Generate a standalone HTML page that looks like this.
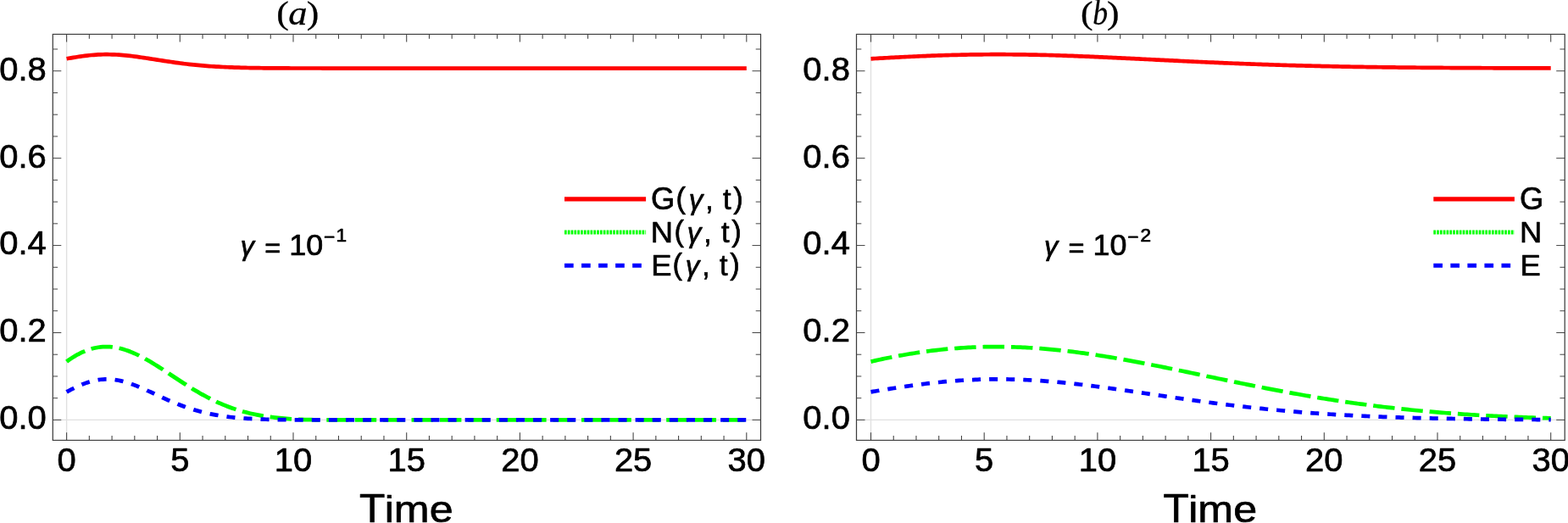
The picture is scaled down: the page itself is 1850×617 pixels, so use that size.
<!DOCTYPE html>
<html>
<head>
<meta charset="utf-8">
<title>Time evolution plots</title>
<style>
html,body{margin:0;padding:0;background:#ffffff;overflow:hidden}
svg{display:block}
text{fill:#000;stroke:#000;stroke-width:0.7px;stroke-linejoin:round;font-family:"Liberation Sans",sans-serif}
.serif,.sit{stroke-width:0.3px}
.serif{font-family:"Liberation Serif",serif}
.it{font-style:italic}
.sit{font-family:"Liberation Serif",serif;font-style:italic}
</style>
</head>
<body>
<svg width="1850" height="617" viewBox="0 0 1850 617">
<rect x="0" y="0" width="1850" height="617" fill="#ffffff"/>
<g transform="scale(1.0776,1)">
<g id="panel-a">
<line x1="72.94" y1="40.40" x2="72.94" y2="519.40" stroke="#e0e0e0" stroke-width="1.3"/>
<line x1="57.81" y1="495.40" x2="832.87" y2="495.40" stroke="#e0e0e0" stroke-width="1.3"/>
<line x1="72.94" y1="519.40" x2="72.94" y2="510.20" stroke="#444444" stroke-width="1.0"/>
<line x1="72.94" y1="40.40" x2="72.94" y2="49.60" stroke="#444444" stroke-width="1.0"/>
<line x1="97.75" y1="519.40" x2="97.75" y2="514.00" stroke="#444444" stroke-width="1.0"/>
<line x1="97.75" y1="40.40" x2="97.75" y2="45.80" stroke="#444444" stroke-width="1.0"/>
<line x1="122.57" y1="519.40" x2="122.57" y2="514.00" stroke="#444444" stroke-width="1.0"/>
<line x1="122.57" y1="40.40" x2="122.57" y2="45.80" stroke="#444444" stroke-width="1.0"/>
<line x1="147.38" y1="519.40" x2="147.38" y2="514.00" stroke="#444444" stroke-width="1.0"/>
<line x1="147.38" y1="40.40" x2="147.38" y2="45.80" stroke="#444444" stroke-width="1.0"/>
<line x1="172.20" y1="519.40" x2="172.20" y2="514.00" stroke="#444444" stroke-width="1.0"/>
<line x1="172.20" y1="40.40" x2="172.20" y2="45.80" stroke="#444444" stroke-width="1.0"/>
<line x1="197.01" y1="519.40" x2="197.01" y2="510.20" stroke="#444444" stroke-width="1.0"/>
<line x1="197.01" y1="40.40" x2="197.01" y2="49.60" stroke="#444444" stroke-width="1.0"/>
<line x1="221.83" y1="519.40" x2="221.83" y2="514.00" stroke="#444444" stroke-width="1.0"/>
<line x1="221.83" y1="40.40" x2="221.83" y2="45.80" stroke="#444444" stroke-width="1.0"/>
<line x1="246.64" y1="519.40" x2="246.64" y2="514.00" stroke="#444444" stroke-width="1.0"/>
<line x1="246.64" y1="40.40" x2="246.64" y2="45.80" stroke="#444444" stroke-width="1.0"/>
<line x1="271.46" y1="519.40" x2="271.46" y2="514.00" stroke="#444444" stroke-width="1.0"/>
<line x1="271.46" y1="40.40" x2="271.46" y2="45.80" stroke="#444444" stroke-width="1.0"/>
<line x1="296.27" y1="519.40" x2="296.27" y2="514.00" stroke="#444444" stroke-width="1.0"/>
<line x1="296.27" y1="40.40" x2="296.27" y2="45.80" stroke="#444444" stroke-width="1.0"/>
<line x1="321.08" y1="519.40" x2="321.08" y2="510.20" stroke="#444444" stroke-width="1.0"/>
<line x1="321.08" y1="40.40" x2="321.08" y2="49.60" stroke="#444444" stroke-width="1.0"/>
<line x1="345.90" y1="519.40" x2="345.90" y2="514.00" stroke="#444444" stroke-width="1.0"/>
<line x1="345.90" y1="40.40" x2="345.90" y2="45.80" stroke="#444444" stroke-width="1.0"/>
<line x1="370.71" y1="519.40" x2="370.71" y2="514.00" stroke="#444444" stroke-width="1.0"/>
<line x1="370.71" y1="40.40" x2="370.71" y2="45.80" stroke="#444444" stroke-width="1.0"/>
<line x1="395.53" y1="519.40" x2="395.53" y2="514.00" stroke="#444444" stroke-width="1.0"/>
<line x1="395.53" y1="40.40" x2="395.53" y2="45.80" stroke="#444444" stroke-width="1.0"/>
<line x1="420.34" y1="519.40" x2="420.34" y2="514.00" stroke="#444444" stroke-width="1.0"/>
<line x1="420.34" y1="40.40" x2="420.34" y2="45.80" stroke="#444444" stroke-width="1.0"/>
<line x1="445.16" y1="519.40" x2="445.16" y2="510.20" stroke="#444444" stroke-width="1.0"/>
<line x1="445.16" y1="40.40" x2="445.16" y2="49.60" stroke="#444444" stroke-width="1.0"/>
<line x1="469.97" y1="519.40" x2="469.97" y2="514.00" stroke="#444444" stroke-width="1.0"/>
<line x1="469.97" y1="40.40" x2="469.97" y2="45.80" stroke="#444444" stroke-width="1.0"/>
<line x1="494.78" y1="519.40" x2="494.78" y2="514.00" stroke="#444444" stroke-width="1.0"/>
<line x1="494.78" y1="40.40" x2="494.78" y2="45.80" stroke="#444444" stroke-width="1.0"/>
<line x1="519.60" y1="519.40" x2="519.60" y2="514.00" stroke="#444444" stroke-width="1.0"/>
<line x1="519.60" y1="40.40" x2="519.60" y2="45.80" stroke="#444444" stroke-width="1.0"/>
<line x1="544.41" y1="519.40" x2="544.41" y2="514.00" stroke="#444444" stroke-width="1.0"/>
<line x1="544.41" y1="40.40" x2="544.41" y2="45.80" stroke="#444444" stroke-width="1.0"/>
<line x1="569.23" y1="519.40" x2="569.23" y2="510.20" stroke="#444444" stroke-width="1.0"/>
<line x1="569.23" y1="40.40" x2="569.23" y2="49.60" stroke="#444444" stroke-width="1.0"/>
<line x1="594.04" y1="519.40" x2="594.04" y2="514.00" stroke="#444444" stroke-width="1.0"/>
<line x1="594.04" y1="40.40" x2="594.04" y2="45.80" stroke="#444444" stroke-width="1.0"/>
<line x1="618.86" y1="519.40" x2="618.86" y2="514.00" stroke="#444444" stroke-width="1.0"/>
<line x1="618.86" y1="40.40" x2="618.86" y2="45.80" stroke="#444444" stroke-width="1.0"/>
<line x1="643.67" y1="519.40" x2="643.67" y2="514.00" stroke="#444444" stroke-width="1.0"/>
<line x1="643.67" y1="40.40" x2="643.67" y2="45.80" stroke="#444444" stroke-width="1.0"/>
<line x1="668.49" y1="519.40" x2="668.49" y2="514.00" stroke="#444444" stroke-width="1.0"/>
<line x1="668.49" y1="40.40" x2="668.49" y2="45.80" stroke="#444444" stroke-width="1.0"/>
<line x1="693.30" y1="519.40" x2="693.30" y2="510.20" stroke="#444444" stroke-width="1.0"/>
<line x1="693.30" y1="40.40" x2="693.30" y2="49.60" stroke="#444444" stroke-width="1.0"/>
<line x1="718.11" y1="519.40" x2="718.11" y2="514.00" stroke="#444444" stroke-width="1.0"/>
<line x1="718.11" y1="40.40" x2="718.11" y2="45.80" stroke="#444444" stroke-width="1.0"/>
<line x1="742.93" y1="519.40" x2="742.93" y2="514.00" stroke="#444444" stroke-width="1.0"/>
<line x1="742.93" y1="40.40" x2="742.93" y2="45.80" stroke="#444444" stroke-width="1.0"/>
<line x1="767.74" y1="519.40" x2="767.74" y2="514.00" stroke="#444444" stroke-width="1.0"/>
<line x1="767.74" y1="40.40" x2="767.74" y2="45.80" stroke="#444444" stroke-width="1.0"/>
<line x1="792.56" y1="519.40" x2="792.56" y2="514.00" stroke="#444444" stroke-width="1.0"/>
<line x1="792.56" y1="40.40" x2="792.56" y2="45.80" stroke="#444444" stroke-width="1.0"/>
<line x1="817.37" y1="519.40" x2="817.37" y2="510.20" stroke="#444444" stroke-width="1.0"/>
<line x1="817.37" y1="40.40" x2="817.37" y2="49.60" stroke="#444444" stroke-width="1.0"/>
<line x1="57.81" y1="495.40" x2="67.09" y2="495.40" stroke="#444444" stroke-width="1.0"/>
<line x1="832.87" y1="495.40" x2="823.59" y2="495.40" stroke="#444444" stroke-width="1.0"/>
<line x1="57.81" y1="469.67" x2="63.20" y2="469.67" stroke="#444444" stroke-width="1.0"/>
<line x1="832.87" y1="469.67" x2="827.49" y2="469.67" stroke="#444444" stroke-width="1.0"/>
<line x1="57.81" y1="443.94" x2="63.20" y2="443.94" stroke="#444444" stroke-width="1.0"/>
<line x1="832.87" y1="443.94" x2="827.49" y2="443.94" stroke="#444444" stroke-width="1.0"/>
<line x1="57.81" y1="418.21" x2="63.20" y2="418.21" stroke="#444444" stroke-width="1.0"/>
<line x1="832.87" y1="418.21" x2="827.49" y2="418.21" stroke="#444444" stroke-width="1.0"/>
<line x1="57.81" y1="392.48" x2="67.09" y2="392.48" stroke="#444444" stroke-width="1.0"/>
<line x1="832.87" y1="392.48" x2="823.59" y2="392.48" stroke="#444444" stroke-width="1.0"/>
<line x1="57.81" y1="366.75" x2="63.20" y2="366.75" stroke="#444444" stroke-width="1.0"/>
<line x1="832.87" y1="366.75" x2="827.49" y2="366.75" stroke="#444444" stroke-width="1.0"/>
<line x1="57.81" y1="341.02" x2="63.20" y2="341.02" stroke="#444444" stroke-width="1.0"/>
<line x1="832.87" y1="341.02" x2="827.49" y2="341.02" stroke="#444444" stroke-width="1.0"/>
<line x1="57.81" y1="315.29" x2="63.20" y2="315.29" stroke="#444444" stroke-width="1.0"/>
<line x1="832.87" y1="315.29" x2="827.49" y2="315.29" stroke="#444444" stroke-width="1.0"/>
<line x1="57.81" y1="289.56" x2="67.09" y2="289.56" stroke="#444444" stroke-width="1.0"/>
<line x1="832.87" y1="289.56" x2="823.59" y2="289.56" stroke="#444444" stroke-width="1.0"/>
<line x1="57.81" y1="263.83" x2="63.20" y2="263.83" stroke="#444444" stroke-width="1.0"/>
<line x1="832.87" y1="263.83" x2="827.49" y2="263.83" stroke="#444444" stroke-width="1.0"/>
<line x1="57.81" y1="238.10" x2="63.20" y2="238.10" stroke="#444444" stroke-width="1.0"/>
<line x1="832.87" y1="238.10" x2="827.49" y2="238.10" stroke="#444444" stroke-width="1.0"/>
<line x1="57.81" y1="212.37" x2="63.20" y2="212.37" stroke="#444444" stroke-width="1.0"/>
<line x1="832.87" y1="212.37" x2="827.49" y2="212.37" stroke="#444444" stroke-width="1.0"/>
<line x1="57.81" y1="186.64" x2="67.09" y2="186.64" stroke="#444444" stroke-width="1.0"/>
<line x1="832.87" y1="186.64" x2="823.59" y2="186.64" stroke="#444444" stroke-width="1.0"/>
<line x1="57.81" y1="160.91" x2="63.20" y2="160.91" stroke="#444444" stroke-width="1.0"/>
<line x1="832.87" y1="160.91" x2="827.49" y2="160.91" stroke="#444444" stroke-width="1.0"/>
<line x1="57.81" y1="135.18" x2="63.20" y2="135.18" stroke="#444444" stroke-width="1.0"/>
<line x1="832.87" y1="135.18" x2="827.49" y2="135.18" stroke="#444444" stroke-width="1.0"/>
<line x1="57.81" y1="109.45" x2="63.20" y2="109.45" stroke="#444444" stroke-width="1.0"/>
<line x1="832.87" y1="109.45" x2="827.49" y2="109.45" stroke="#444444" stroke-width="1.0"/>
<line x1="57.81" y1="83.72" x2="67.09" y2="83.72" stroke="#444444" stroke-width="1.0"/>
<line x1="832.87" y1="83.72" x2="823.59" y2="83.72" stroke="#444444" stroke-width="1.0"/>
<line x1="57.81" y1="57.99" x2="63.20" y2="57.99" stroke="#444444" stroke-width="1.0"/>
<line x1="832.87" y1="57.99" x2="827.49" y2="57.99" stroke="#444444" stroke-width="1.0"/>
<rect x="57.81" y="40.40" width="775.06" height="479.00" fill="none" stroke="#3c3c3c" stroke-width="1.15"/>
<path d="M72.94,69.29 L75.42,68.81 L77.90,68.34 L80.38,67.88 L82.87,67.44 L85.35,67.02 L87.83,66.62 L90.31,66.25 L92.79,65.90 L95.27,65.57 L97.75,65.28 L100.24,65.02 L102.72,64.80 L105.20,64.61 L107.68,64.45 L110.16,64.33 L112.64,64.25 L115.12,64.21 L117.61,64.20 L120.09,64.23 L122.57,64.29 L125.05,64.39 L127.53,64.52 L130.01,64.68 L132.49,64.88 L134.98,65.10 L137.46,65.35 L139.94,65.63 L142.42,65.92 L144.90,66.25 L147.38,66.59 L149.86,66.94 L152.35,67.32 L154.83,67.70 L157.31,68.10 L159.79,68.50 L162.27,68.92 L164.75,69.33 L167.23,69.75 L169.72,70.18 L172.20,70.60 L174.68,71.02 L177.16,71.44 L179.64,71.85 L182.12,72.26 L184.60,72.66 L187.09,73.05 L189.57,73.44 L192.05,73.81 L194.53,74.18 L197.01,74.53 L199.49,74.87 L201.97,75.21 L204.46,75.52 L206.94,75.83 L209.42,76.13 L211.90,76.41 L214.38,76.68 L216.86,76.94 L219.34,77.18 L221.83,77.41 L224.31,77.63 L226.79,77.84 L229.27,78.04 L231.75,78.23 L234.23,78.40 L236.71,78.57 L239.20,78.72 L241.68,78.87 L244.16,79.00 L246.64,79.13 L249.12,79.25 L251.60,79.36 L254.09,79.46 L256.57,79.56 L259.05,79.64 L261.53,79.72 L264.01,79.80 L266.49,79.87 L268.97,79.93 L271.46,79.99 L273.94,80.04 L276.42,80.09 L278.90,80.14 L281.38,80.18 L283.86,80.21 L286.34,80.25 L288.83,80.28 L291.31,80.30 L293.79,80.33 L296.27,80.35 L298.75,80.37 L301.23,80.39 L303.71,80.41 L306.20,80.42 L308.68,80.43 L311.16,80.45 L313.64,80.46 L316.12,80.47 L318.60,80.48 L321.08,80.49 L323.57,80.49 L326.05,80.50 L328.53,80.50 L331.01,80.51 L333.49,80.51 L335.97,80.51 L338.45,80.52 L340.94,80.52 L343.42,80.52 L345.90,80.52 L348.38,80.52 L350.86,80.52 L353.34,80.53 L355.82,80.53 L358.31,80.53 L360.79,80.53 L363.27,80.53 L365.75,80.53 L368.23,80.53 L370.71,80.53 L373.19,80.53 L375.68,80.53 L378.16,80.53 L380.64,80.53 L383.12,80.53 L385.60,80.53 L388.08,80.53 L390.56,80.53 L393.05,80.53 L395.53,80.53 L398.01,80.53 L400.49,80.53 L402.97,80.53 L405.45,80.53 L407.93,80.53 L410.42,80.53 L412.90,80.53 L415.38,80.53 L417.86,80.53 L420.34,80.53 L422.82,80.53 L425.30,80.53 L427.79,80.53 L430.27,80.53 L432.75,80.53 L435.23,80.53 L437.71,80.53 L440.19,80.53 L442.67,80.53 L445.16,80.53 L447.64,80.53 L450.12,80.53 L452.60,80.53 L455.08,80.53 L457.56,80.53 L460.04,80.53 L462.53,80.53 L465.01,80.53 L467.49,80.53 L469.97,80.53 L472.45,80.53 L474.93,80.53 L477.41,80.53 L479.90,80.53 L482.38,80.53 L484.86,80.53 L487.34,80.53 L489.82,80.53 L492.30,80.53 L494.78,80.53 L497.27,80.53 L499.75,80.53 L502.23,80.53 L504.71,80.53 L507.19,80.53 L509.67,80.53 L512.15,80.53 L514.64,80.53 L517.12,80.53 L519.60,80.53 L522.08,80.53 L524.56,80.53 L527.04,80.53 L529.52,80.53 L532.01,80.53 L534.49,80.53 L536.97,80.53 L539.45,80.53 L541.93,80.53 L544.41,80.53 L546.89,80.53 L549.38,80.53 L551.86,80.53 L554.34,80.53 L556.82,80.53 L559.30,80.53 L561.78,80.53 L564.27,80.53 L566.75,80.53 L569.23,80.53 L571.71,80.53 L574.19,80.53 L576.67,80.53 L579.15,80.53 L581.64,80.53 L584.12,80.53 L586.60,80.53 L589.08,80.53 L591.56,80.53 L594.04,80.53 L596.52,80.53 L599.01,80.53 L601.49,80.53 L603.97,80.53 L606.45,80.53 L608.93,80.53 L611.41,80.53 L613.89,80.53 L616.38,80.53 L618.86,80.53 L621.34,80.53 L623.82,80.53 L626.30,80.53 L628.78,80.53 L631.26,80.53 L633.75,80.53 L636.23,80.53 L638.71,80.53 L641.19,80.53 L643.67,80.53 L646.15,80.53 L648.63,80.53 L651.12,80.53 L653.60,80.53 L656.08,80.53 L658.56,80.53 L661.04,80.53 L663.52,80.53 L666.00,80.53 L668.49,80.53 L670.97,80.53 L673.45,80.53 L675.93,80.53 L678.41,80.53 L680.89,80.53 L683.37,80.53 L685.86,80.53 L688.34,80.53 L690.82,80.53 L693.30,80.53 L695.78,80.53 L698.26,80.53 L700.74,80.53 L703.23,80.53 L705.71,80.53 L708.19,80.53 L710.67,80.53 L713.15,80.53 L715.63,80.53 L718.11,80.53 L720.60,80.53 L723.08,80.53 L725.56,80.53 L728.04,80.53 L730.52,80.53 L733.00,80.53 L735.48,80.53 L737.97,80.53 L740.45,80.53 L742.93,80.53 L745.41,80.53 L747.89,80.53 L750.37,80.53 L752.85,80.53 L755.34,80.53 L757.82,80.53 L760.30,80.53 L762.78,80.53 L765.26,80.53 L767.74,80.53 L770.22,80.53 L772.71,80.53 L775.19,80.53 L777.67,80.53 L780.15,80.53 L782.63,80.53 L785.11,80.53 L787.59,80.53 L790.08,80.53 L792.56,80.53 L795.04,80.53 L797.52,80.53 L800.00,80.53 L802.48,80.53 L804.96,80.53 L807.45,80.53 L809.93,80.53 L812.41,80.53 L814.89,80.53 L817.37,80.53" fill="none" stroke="#ff0000" stroke-width="4.7" stroke-linejoin="round"/>
<path d="M72.94,426.61 L75.42,424.70 L77.90,422.90 L80.38,421.19 L82.87,419.59 L85.35,418.09 L87.83,416.71 L90.31,415.44 L92.79,414.28 L95.27,413.23 L97.75,412.30 L100.24,411.49 L102.72,410.80 L105.20,410.22 L107.68,409.76 L110.16,409.42 L112.64,409.19 L115.12,409.07 L117.61,409.07 L120.09,409.19 L122.57,409.41 L125.05,409.73 L127.53,410.17 L130.01,410.70 L132.49,411.33 L134.98,412.06 L137.46,412.88 L139.94,413.79 L142.42,414.79 L144.90,415.86 L147.38,417.01 L149.86,418.24 L152.35,419.53 L154.83,420.88 L157.31,422.30 L159.79,423.76 L162.27,425.28 L164.75,426.85 L167.23,428.45 L169.72,430.09 L172.20,431.77 L174.68,433.46 L177.16,435.19 L179.64,436.93 L182.12,438.68 L184.60,440.45 L187.09,442.22 L189.57,443.99 L192.05,445.76 L194.53,447.52 L197.01,449.27 L199.49,451.02 L201.97,452.74 L204.46,454.45 L206.94,456.13 L209.42,457.79 L211.90,459.42 L214.38,461.02 L216.86,462.60 L219.34,464.13 L221.83,465.63 L224.31,467.10 L226.79,468.53 L229.27,469.91 L231.75,471.26 L234.23,472.56 L236.71,473.83 L239.20,475.05 L241.68,476.22 L244.16,477.35 L246.64,478.44 L249.12,479.49 L251.60,480.49 L254.09,481.45 L256.57,482.37 L259.05,483.25 L261.53,484.08 L264.01,484.87 L266.49,485.63 L268.97,486.34 L271.46,487.02 L273.94,487.66 L276.42,488.26 L278.90,488.83 L281.38,489.36 L283.86,489.86 L286.34,490.33 L288.83,490.77 L291.31,491.19 L293.79,491.57 L296.27,491.93 L298.75,492.26 L301.23,492.57 L303.71,492.85 L306.20,493.11 L308.68,493.36 L311.16,493.64 L313.64,493.89 L316.12,494.11 L318.60,494.30 L321.08,494.46 L323.57,494.61 L326.05,494.74 L328.53,494.85 L331.01,494.94 L333.49,495.03 L335.97,495.10 L338.45,495.16 L340.94,495.21 L343.42,495.26 L345.90,495.29 L348.38,495.32 L350.86,495.35 L353.34,495.37 L355.82,495.39 L358.31,495.40 L360.79,495.40 L363.27,495.40 L365.75,495.40 L368.23,495.40 L370.71,495.40 L373.19,495.40 L375.68,495.40 L378.16,495.40 L380.64,495.40 L383.12,495.40 L385.60,495.40 L388.08,495.40 L390.56,495.40 L393.05,495.40 L395.53,495.40 L398.01,495.40 L400.49,495.40 L402.97,495.40 L405.45,495.40 L407.93,495.40 L410.42,495.40 L412.90,495.40 L415.38,495.40 L417.86,495.40 L420.34,495.40 L422.82,495.40 L425.30,495.40 L427.79,495.40 L430.27,495.40 L432.75,495.40 L435.23,495.40 L437.71,495.40 L440.19,495.40 L442.67,495.40 L445.16,495.40 L447.64,495.40 L450.12,495.40 L452.60,495.40 L455.08,495.40 L457.56,495.40 L460.04,495.40 L462.53,495.40 L465.01,495.40 L467.49,495.40 L469.97,495.40 L472.45,495.40 L474.93,495.40 L477.41,495.40 L479.90,495.40 L482.38,495.40 L484.86,495.40 L487.34,495.40 L489.82,495.40 L492.30,495.40 L494.78,495.40 L497.27,495.40 L499.75,495.40 L502.23,495.40 L504.71,495.40 L507.19,495.40 L509.67,495.40 L512.15,495.40 L514.64,495.40 L517.12,495.40 L519.60,495.40 L522.08,495.40 L524.56,495.40 L527.04,495.40 L529.52,495.40 L532.01,495.40 L534.49,495.40 L536.97,495.40 L539.45,495.40 L541.93,495.40 L544.41,495.40 L546.89,495.40 L549.38,495.40 L551.86,495.40 L554.34,495.40 L556.82,495.40 L559.30,495.40 L561.78,495.40 L564.27,495.40 L566.75,495.40 L569.23,495.40 L571.71,495.40 L574.19,495.40 L576.67,495.40 L579.15,495.40 L581.64,495.40 L584.12,495.40 L586.60,495.40 L589.08,495.40 L591.56,495.40 L594.04,495.40 L596.52,495.40 L599.01,495.40 L601.49,495.40 L603.97,495.40 L606.45,495.40 L608.93,495.40 L611.41,495.40 L613.89,495.40 L616.38,495.40 L618.86,495.40 L621.34,495.40 L623.82,495.40 L626.30,495.40 L628.78,495.40 L631.26,495.40 L633.75,495.40 L636.23,495.40 L638.71,495.40 L641.19,495.40 L643.67,495.40 L646.15,495.40 L648.63,495.40 L651.12,495.40 L653.60,495.40 L656.08,495.40 L658.56,495.40 L661.04,495.40 L663.52,495.40 L666.00,495.40 L668.49,495.40 L670.97,495.40 L673.45,495.40 L675.93,495.40 L678.41,495.40 L680.89,495.40 L683.37,495.40 L685.86,495.40 L688.34,495.40 L690.82,495.40 L693.30,495.40 L695.78,495.40 L698.26,495.40 L700.74,495.40 L703.23,495.40 L705.71,495.40 L708.19,495.40 L710.67,495.40 L713.15,495.40 L715.63,495.40 L718.11,495.40 L720.60,495.40 L723.08,495.40 L725.56,495.40 L728.04,495.40 L730.52,495.40 L733.00,495.40 L735.48,495.40 L737.97,495.40 L740.45,495.40 L742.93,495.40 L745.41,495.40 L747.89,495.40 L750.37,495.40 L752.85,495.40 L755.34,495.40 L757.82,495.40 L760.30,495.40 L762.78,495.40 L765.26,495.40 L767.74,495.40 L770.22,495.40 L772.71,495.40 L775.19,495.40 L777.67,495.40 L780.15,495.40 L782.63,495.40 L785.11,495.40 L787.59,495.40 L790.08,495.40 L792.56,495.40 L795.04,495.40 L797.52,495.40 L800.00,495.40 L802.48,495.40 L804.96,495.40 L807.45,495.40 L809.93,495.40 L812.41,495.40 L814.89,495.40 L817.37,495.40" fill="none" stroke="#00ff00" stroke-width="4.7" stroke-dasharray="23.65 7.35" stroke-linejoin="round"/>
<path d="M72.94,462.33 L75.42,460.93 L77.90,459.55 L80.38,458.21 L82.87,456.92 L85.35,455.68 L87.83,454.50 L90.31,453.39 L92.79,452.36 L95.27,451.41 L97.75,450.56 L100.24,449.80 L102.72,449.13 L105.20,448.57 L107.68,448.12 L110.16,447.77 L112.64,447.53 L115.12,447.39 L117.61,447.37 L120.09,447.45 L122.57,447.64 L125.05,447.92 L127.53,448.31 L130.01,448.79 L132.49,449.36 L134.98,450.02 L137.46,450.75 L139.94,451.56 L142.42,452.44 L144.90,453.39 L147.38,454.39 L149.86,455.44 L152.35,456.53 L154.83,457.67 L157.31,458.84 L159.79,460.03 L162.27,461.24 L164.75,462.47 L167.23,463.71 L169.72,464.95 L172.20,466.20 L174.68,467.43 L177.16,468.66 L179.64,469.88 L182.12,471.08 L184.60,472.26 L187.09,473.41 L189.57,474.54 L192.05,475.64 L194.53,476.72 L197.01,477.76 L199.49,478.77 L201.97,479.74 L204.46,480.68 L206.94,481.58 L209.42,482.45 L211.90,483.28 L214.38,484.07 L216.86,484.83 L219.34,485.55 L221.83,486.23 L224.31,486.88 L226.79,487.50 L229.27,488.08 L231.75,488.63 L234.23,489.15 L236.71,489.63 L239.20,490.09 L241.68,490.51 L244.16,490.91 L246.64,491.29 L249.12,491.63 L251.60,491.96 L254.09,492.26 L256.57,492.54 L259.05,492.79 L261.53,493.03 L264.01,493.25 L266.49,493.45 L268.97,493.64 L271.46,493.81 L273.94,493.97 L276.42,494.11 L278.90,494.24 L281.38,494.36 L283.86,494.47 L286.34,494.57 L288.83,494.66 L291.31,494.74 L293.79,494.81 L296.27,494.88 L298.75,494.93 L301.23,494.99 L303.71,495.04 L306.20,495.08 L308.68,495.12 L311.16,495.16 L313.64,495.20 L316.12,495.23 L318.60,495.25 L321.08,495.28 L323.57,495.29 L326.05,495.31 L328.53,495.33 L331.01,495.34 L333.49,495.35 L335.97,495.36 L338.45,495.36 L340.94,495.37 L343.42,495.37 L345.90,495.38 L348.38,495.38 L350.86,495.39 L353.34,495.39 L355.82,495.39 L358.31,495.39 L360.79,495.39 L363.27,495.39 L365.75,495.40 L368.23,495.40 L370.71,495.40 L373.19,495.40 L375.68,495.40 L378.16,495.40 L380.64,495.40 L383.12,495.40 L385.60,495.40 L388.08,495.40 L390.56,495.40 L393.05,495.40 L395.53,495.40 L398.01,495.40 L400.49,495.40 L402.97,495.40 L405.45,495.40 L407.93,495.40 L410.42,495.40 L412.90,495.40 L415.38,495.40 L417.86,495.40 L420.34,495.40 L422.82,495.40 L425.30,495.40 L427.79,495.40 L430.27,495.40 L432.75,495.40 L435.23,495.40 L437.71,495.40 L440.19,495.40 L442.67,495.40 L445.16,495.40 L447.64,495.40 L450.12,495.40 L452.60,495.40 L455.08,495.40 L457.56,495.40 L460.04,495.40 L462.53,495.40 L465.01,495.40 L467.49,495.40 L469.97,495.40 L472.45,495.40 L474.93,495.40 L477.41,495.40 L479.90,495.40 L482.38,495.40 L484.86,495.40 L487.34,495.40 L489.82,495.40 L492.30,495.40 L494.78,495.40 L497.27,495.40 L499.75,495.40 L502.23,495.40 L504.71,495.40 L507.19,495.40 L509.67,495.40 L512.15,495.40 L514.64,495.40 L517.12,495.40 L519.60,495.40 L522.08,495.40 L524.56,495.40 L527.04,495.40 L529.52,495.40 L532.01,495.40 L534.49,495.40 L536.97,495.40 L539.45,495.40 L541.93,495.40 L544.41,495.40 L546.89,495.40 L549.38,495.40 L551.86,495.40 L554.34,495.40 L556.82,495.40 L559.30,495.40 L561.78,495.40 L564.27,495.40 L566.75,495.40 L569.23,495.40 L571.71,495.40 L574.19,495.40 L576.67,495.40 L579.15,495.40 L581.64,495.40 L584.12,495.40 L586.60,495.40 L589.08,495.40 L591.56,495.40 L594.04,495.40 L596.52,495.40 L599.01,495.40 L601.49,495.40 L603.97,495.40 L606.45,495.40 L608.93,495.40 L611.41,495.40 L613.89,495.40 L616.38,495.40 L618.86,495.40 L621.34,495.40 L623.82,495.40 L626.30,495.40 L628.78,495.40 L631.26,495.40 L633.75,495.40 L636.23,495.40 L638.71,495.40 L641.19,495.40 L643.67,495.40 L646.15,495.40 L648.63,495.40 L651.12,495.40 L653.60,495.40 L656.08,495.40 L658.56,495.40 L661.04,495.40 L663.52,495.40 L666.00,495.40 L668.49,495.40 L670.97,495.40 L673.45,495.40 L675.93,495.40 L678.41,495.40 L680.89,495.40 L683.37,495.40 L685.86,495.40 L688.34,495.40 L690.82,495.40 L693.30,495.40 L695.78,495.40 L698.26,495.40 L700.74,495.40 L703.23,495.40 L705.71,495.40 L708.19,495.40 L710.67,495.40 L713.15,495.40 L715.63,495.40 L718.11,495.40 L720.60,495.40 L723.08,495.40 L725.56,495.40 L728.04,495.40 L730.52,495.40 L733.00,495.40 L735.48,495.40 L737.97,495.40 L740.45,495.40 L742.93,495.40 L745.41,495.40 L747.89,495.40 L750.37,495.40 L752.85,495.40 L755.34,495.40 L757.82,495.40 L760.30,495.40 L762.78,495.40 L765.26,495.40 L767.74,495.40 L770.22,495.40 L772.71,495.40 L775.19,495.40 L777.67,495.40 L780.15,495.40 L782.63,495.40 L785.11,495.40 L787.59,495.40 L790.08,495.40 L792.56,495.40 L795.04,495.40 L797.52,495.40 L800.00,495.40 L802.48,495.40 L804.96,495.40 L807.45,495.40 L809.93,495.40 L812.41,495.40 L814.89,495.40 L817.37,495.40" fill="none" stroke="#0000ff" stroke-width="4.7" stroke-dasharray="9.33 9.32" stroke-linejoin="round"/>
<line x1="618.04" y1="234.90" x2="707.22" y2="234.90" stroke="#ff0000" stroke-width="5.1"/>
<line x1="618.04" y1="274.00" x2="707.22" y2="274.00" stroke="#00ff00" stroke-width="5.1" stroke-dasharray="2.5 1.04"/>
<line x1="618.04" y1="313.30" x2="707.22" y2="313.30" stroke="#0000ff" stroke-width="5.1" stroke-dasharray="9.9 8.7"/>
</g>
<g id="panel-b">
<line x1="953.51" y1="40.40" x2="953.51" y2="519.40" stroke="#e0e0e0" stroke-width="1.3"/>
<line x1="937.73" y1="495.40" x2="1713.25" y2="495.40" stroke="#e0e0e0" stroke-width="1.3"/>
<line x1="953.51" y1="519.40" x2="953.51" y2="510.20" stroke="#444444" stroke-width="1.0"/>
<line x1="953.51" y1="40.40" x2="953.51" y2="49.60" stroke="#444444" stroke-width="1.0"/>
<line x1="978.32" y1="519.40" x2="978.32" y2="514.00" stroke="#444444" stroke-width="1.0"/>
<line x1="978.32" y1="40.40" x2="978.32" y2="45.80" stroke="#444444" stroke-width="1.0"/>
<line x1="1003.14" y1="519.40" x2="1003.14" y2="514.00" stroke="#444444" stroke-width="1.0"/>
<line x1="1003.14" y1="40.40" x2="1003.14" y2="45.80" stroke="#444444" stroke-width="1.0"/>
<line x1="1027.95" y1="519.40" x2="1027.95" y2="514.00" stroke="#444444" stroke-width="1.0"/>
<line x1="1027.95" y1="40.40" x2="1027.95" y2="45.80" stroke="#444444" stroke-width="1.0"/>
<line x1="1052.77" y1="519.40" x2="1052.77" y2="514.00" stroke="#444444" stroke-width="1.0"/>
<line x1="1052.77" y1="40.40" x2="1052.77" y2="45.80" stroke="#444444" stroke-width="1.0"/>
<line x1="1077.58" y1="519.40" x2="1077.58" y2="510.20" stroke="#444444" stroke-width="1.0"/>
<line x1="1077.58" y1="40.40" x2="1077.58" y2="49.60" stroke="#444444" stroke-width="1.0"/>
<line x1="1102.39" y1="519.40" x2="1102.39" y2="514.00" stroke="#444444" stroke-width="1.0"/>
<line x1="1102.39" y1="40.40" x2="1102.39" y2="45.80" stroke="#444444" stroke-width="1.0"/>
<line x1="1127.21" y1="519.40" x2="1127.21" y2="514.00" stroke="#444444" stroke-width="1.0"/>
<line x1="1127.21" y1="40.40" x2="1127.21" y2="45.80" stroke="#444444" stroke-width="1.0"/>
<line x1="1152.02" y1="519.40" x2="1152.02" y2="514.00" stroke="#444444" stroke-width="1.0"/>
<line x1="1152.02" y1="40.40" x2="1152.02" y2="45.80" stroke="#444444" stroke-width="1.0"/>
<line x1="1176.84" y1="519.40" x2="1176.84" y2="514.00" stroke="#444444" stroke-width="1.0"/>
<line x1="1176.84" y1="40.40" x2="1176.84" y2="45.80" stroke="#444444" stroke-width="1.0"/>
<line x1="1201.65" y1="519.40" x2="1201.65" y2="510.20" stroke="#444444" stroke-width="1.0"/>
<line x1="1201.65" y1="40.40" x2="1201.65" y2="49.60" stroke="#444444" stroke-width="1.0"/>
<line x1="1226.47" y1="519.40" x2="1226.47" y2="514.00" stroke="#444444" stroke-width="1.0"/>
<line x1="1226.47" y1="40.40" x2="1226.47" y2="45.80" stroke="#444444" stroke-width="1.0"/>
<line x1="1251.28" y1="519.40" x2="1251.28" y2="514.00" stroke="#444444" stroke-width="1.0"/>
<line x1="1251.28" y1="40.40" x2="1251.28" y2="45.80" stroke="#444444" stroke-width="1.0"/>
<line x1="1276.10" y1="519.40" x2="1276.10" y2="514.00" stroke="#444444" stroke-width="1.0"/>
<line x1="1276.10" y1="40.40" x2="1276.10" y2="45.80" stroke="#444444" stroke-width="1.0"/>
<line x1="1300.91" y1="519.40" x2="1300.91" y2="514.00" stroke="#444444" stroke-width="1.0"/>
<line x1="1300.91" y1="40.40" x2="1300.91" y2="45.80" stroke="#444444" stroke-width="1.0"/>
<line x1="1325.72" y1="519.40" x2="1325.72" y2="510.20" stroke="#444444" stroke-width="1.0"/>
<line x1="1325.72" y1="40.40" x2="1325.72" y2="49.60" stroke="#444444" stroke-width="1.0"/>
<line x1="1350.54" y1="519.40" x2="1350.54" y2="514.00" stroke="#444444" stroke-width="1.0"/>
<line x1="1350.54" y1="40.40" x2="1350.54" y2="45.80" stroke="#444444" stroke-width="1.0"/>
<line x1="1375.35" y1="519.40" x2="1375.35" y2="514.00" stroke="#444444" stroke-width="1.0"/>
<line x1="1375.35" y1="40.40" x2="1375.35" y2="45.80" stroke="#444444" stroke-width="1.0"/>
<line x1="1400.17" y1="519.40" x2="1400.17" y2="514.00" stroke="#444444" stroke-width="1.0"/>
<line x1="1400.17" y1="40.40" x2="1400.17" y2="45.80" stroke="#444444" stroke-width="1.0"/>
<line x1="1424.98" y1="519.40" x2="1424.98" y2="514.00" stroke="#444444" stroke-width="1.0"/>
<line x1="1424.98" y1="40.40" x2="1424.98" y2="45.80" stroke="#444444" stroke-width="1.0"/>
<line x1="1449.80" y1="519.40" x2="1449.80" y2="510.20" stroke="#444444" stroke-width="1.0"/>
<line x1="1449.80" y1="40.40" x2="1449.80" y2="49.60" stroke="#444444" stroke-width="1.0"/>
<line x1="1474.61" y1="519.40" x2="1474.61" y2="514.00" stroke="#444444" stroke-width="1.0"/>
<line x1="1474.61" y1="40.40" x2="1474.61" y2="45.80" stroke="#444444" stroke-width="1.0"/>
<line x1="1499.42" y1="519.40" x2="1499.42" y2="514.00" stroke="#444444" stroke-width="1.0"/>
<line x1="1499.42" y1="40.40" x2="1499.42" y2="45.80" stroke="#444444" stroke-width="1.0"/>
<line x1="1524.24" y1="519.40" x2="1524.24" y2="514.00" stroke="#444444" stroke-width="1.0"/>
<line x1="1524.24" y1="40.40" x2="1524.24" y2="45.80" stroke="#444444" stroke-width="1.0"/>
<line x1="1549.05" y1="519.40" x2="1549.05" y2="514.00" stroke="#444444" stroke-width="1.0"/>
<line x1="1549.05" y1="40.40" x2="1549.05" y2="45.80" stroke="#444444" stroke-width="1.0"/>
<line x1="1573.87" y1="519.40" x2="1573.87" y2="510.20" stroke="#444444" stroke-width="1.0"/>
<line x1="1573.87" y1="40.40" x2="1573.87" y2="49.60" stroke="#444444" stroke-width="1.0"/>
<line x1="1598.68" y1="519.40" x2="1598.68" y2="514.00" stroke="#444444" stroke-width="1.0"/>
<line x1="1598.68" y1="40.40" x2="1598.68" y2="45.80" stroke="#444444" stroke-width="1.0"/>
<line x1="1623.50" y1="519.40" x2="1623.50" y2="514.00" stroke="#444444" stroke-width="1.0"/>
<line x1="1623.50" y1="40.40" x2="1623.50" y2="45.80" stroke="#444444" stroke-width="1.0"/>
<line x1="1648.31" y1="519.40" x2="1648.31" y2="514.00" stroke="#444444" stroke-width="1.0"/>
<line x1="1648.31" y1="40.40" x2="1648.31" y2="45.80" stroke="#444444" stroke-width="1.0"/>
<line x1="1673.13" y1="519.40" x2="1673.13" y2="514.00" stroke="#444444" stroke-width="1.0"/>
<line x1="1673.13" y1="40.40" x2="1673.13" y2="45.80" stroke="#444444" stroke-width="1.0"/>
<line x1="1697.94" y1="519.40" x2="1697.94" y2="510.20" stroke="#444444" stroke-width="1.0"/>
<line x1="1697.94" y1="40.40" x2="1697.94" y2="49.60" stroke="#444444" stroke-width="1.0"/>
<line x1="937.73" y1="495.40" x2="947.01" y2="495.40" stroke="#444444" stroke-width="1.0"/>
<line x1="1713.25" y1="495.40" x2="1703.97" y2="495.40" stroke="#444444" stroke-width="1.0"/>
<line x1="937.73" y1="469.67" x2="943.11" y2="469.67" stroke="#444444" stroke-width="1.0"/>
<line x1="1713.25" y1="469.67" x2="1707.87" y2="469.67" stroke="#444444" stroke-width="1.0"/>
<line x1="937.73" y1="443.94" x2="943.11" y2="443.94" stroke="#444444" stroke-width="1.0"/>
<line x1="1713.25" y1="443.94" x2="1707.87" y2="443.94" stroke="#444444" stroke-width="1.0"/>
<line x1="937.73" y1="418.21" x2="943.11" y2="418.21" stroke="#444444" stroke-width="1.0"/>
<line x1="1713.25" y1="418.21" x2="1707.87" y2="418.21" stroke="#444444" stroke-width="1.0"/>
<line x1="937.73" y1="392.48" x2="947.01" y2="392.48" stroke="#444444" stroke-width="1.0"/>
<line x1="1713.25" y1="392.48" x2="1703.97" y2="392.48" stroke="#444444" stroke-width="1.0"/>
<line x1="937.73" y1="366.75" x2="943.11" y2="366.75" stroke="#444444" stroke-width="1.0"/>
<line x1="1713.25" y1="366.75" x2="1707.87" y2="366.75" stroke="#444444" stroke-width="1.0"/>
<line x1="937.73" y1="341.02" x2="943.11" y2="341.02" stroke="#444444" stroke-width="1.0"/>
<line x1="1713.25" y1="341.02" x2="1707.87" y2="341.02" stroke="#444444" stroke-width="1.0"/>
<line x1="937.73" y1="315.29" x2="943.11" y2="315.29" stroke="#444444" stroke-width="1.0"/>
<line x1="1713.25" y1="315.29" x2="1707.87" y2="315.29" stroke="#444444" stroke-width="1.0"/>
<line x1="937.73" y1="289.56" x2="947.01" y2="289.56" stroke="#444444" stroke-width="1.0"/>
<line x1="1713.25" y1="289.56" x2="1703.97" y2="289.56" stroke="#444444" stroke-width="1.0"/>
<line x1="937.73" y1="263.83" x2="943.11" y2="263.83" stroke="#444444" stroke-width="1.0"/>
<line x1="1713.25" y1="263.83" x2="1707.87" y2="263.83" stroke="#444444" stroke-width="1.0"/>
<line x1="937.73" y1="238.10" x2="943.11" y2="238.10" stroke="#444444" stroke-width="1.0"/>
<line x1="1713.25" y1="238.10" x2="1707.87" y2="238.10" stroke="#444444" stroke-width="1.0"/>
<line x1="937.73" y1="212.37" x2="943.11" y2="212.37" stroke="#444444" stroke-width="1.0"/>
<line x1="1713.25" y1="212.37" x2="1707.87" y2="212.37" stroke="#444444" stroke-width="1.0"/>
<line x1="937.73" y1="186.64" x2="947.01" y2="186.64" stroke="#444444" stroke-width="1.0"/>
<line x1="1713.25" y1="186.64" x2="1703.97" y2="186.64" stroke="#444444" stroke-width="1.0"/>
<line x1="937.73" y1="160.91" x2="943.11" y2="160.91" stroke="#444444" stroke-width="1.0"/>
<line x1="1713.25" y1="160.91" x2="1707.87" y2="160.91" stroke="#444444" stroke-width="1.0"/>
<line x1="937.73" y1="135.18" x2="943.11" y2="135.18" stroke="#444444" stroke-width="1.0"/>
<line x1="1713.25" y1="135.18" x2="1707.87" y2="135.18" stroke="#444444" stroke-width="1.0"/>
<line x1="937.73" y1="109.45" x2="943.11" y2="109.45" stroke="#444444" stroke-width="1.0"/>
<line x1="1713.25" y1="109.45" x2="1707.87" y2="109.45" stroke="#444444" stroke-width="1.0"/>
<line x1="937.73" y1="83.72" x2="947.01" y2="83.72" stroke="#444444" stroke-width="1.0"/>
<line x1="1713.25" y1="83.72" x2="1703.97" y2="83.72" stroke="#444444" stroke-width="1.0"/>
<line x1="937.73" y1="57.99" x2="943.11" y2="57.99" stroke="#444444" stroke-width="1.0"/>
<line x1="1713.25" y1="57.99" x2="1707.87" y2="57.99" stroke="#444444" stroke-width="1.0"/>
<rect x="937.73" y="40.40" width="775.52" height="479.00" fill="none" stroke="#3c3c3c" stroke-width="1.15"/>
<path d="M953.51,69.29 L955.99,69.13 L958.47,68.98 L960.95,68.83 L963.43,68.68 L965.91,68.53 L968.40,68.39 L970.88,68.24 L973.36,68.10 L975.84,67.95 L978.32,67.81 L980.80,67.67 L983.29,67.53 L985.77,67.40 L988.25,67.26 L990.73,67.13 L993.21,67.00 L995.69,66.87 L998.17,66.74 L1000.66,66.62 L1003.14,66.50 L1005.62,66.38 L1008.10,66.26 L1010.58,66.15 L1013.06,66.04 L1015.54,65.93 L1018.03,65.82 L1020.51,65.72 L1022.99,65.62 L1025.47,65.52 L1027.95,65.43 L1030.43,65.34 L1032.91,65.25 L1035.40,65.17 L1037.88,65.09 L1040.36,65.01 L1042.84,64.93 L1045.32,64.86 L1047.80,64.79 L1050.28,64.73 L1052.77,64.67 L1055.25,64.61 L1057.73,64.56 L1060.21,64.51 L1062.69,64.46 L1065.17,64.42 L1067.65,64.38 L1070.14,64.35 L1072.62,64.32 L1075.10,64.29 L1077.58,64.26 L1080.06,64.24 L1082.54,64.23 L1085.02,64.21 L1087.51,64.21 L1089.99,64.20 L1092.47,64.20 L1094.95,64.20 L1097.43,64.20 L1099.91,64.21 L1102.39,64.23 L1104.88,64.24 L1107.36,64.26 L1109.84,64.28 L1112.32,64.31 L1114.80,64.34 L1117.28,64.37 L1119.76,64.41 L1122.25,64.45 L1124.73,64.49 L1127.21,64.54 L1129.69,64.59 L1132.17,64.64 L1134.65,64.70 L1137.13,64.76 L1139.62,64.82 L1142.10,64.88 L1144.58,64.95 L1147.06,65.02 L1149.54,65.09 L1152.02,65.17 L1154.50,65.25 L1156.99,65.33 L1159.47,65.42 L1161.95,65.50 L1164.43,65.59 L1166.91,65.68 L1169.39,65.78 L1171.87,65.87 L1174.36,65.97 L1176.84,66.07 L1179.32,66.17 L1181.80,66.28 L1184.28,66.38 L1186.76,66.49 L1189.24,66.60 L1191.73,66.71 L1194.21,66.82 L1196.69,66.94 L1199.17,67.06 L1201.65,67.17 L1204.13,67.29 L1206.61,67.41 L1209.10,67.53 L1211.58,67.66 L1214.06,67.78 L1216.54,67.91 L1219.02,68.03 L1221.50,68.16 L1223.98,68.29 L1226.47,68.42 L1228.95,68.54 L1231.43,68.67 L1233.91,68.81 L1236.39,68.94 L1238.87,69.07 L1241.35,69.20 L1243.84,69.33 L1246.32,69.47 L1248.80,69.60 L1251.28,69.73 L1253.76,69.87 L1256.24,70.00 L1258.72,70.13 L1261.21,70.27 L1263.69,70.40 L1266.17,70.53 L1268.65,70.67 L1271.13,70.80 L1273.61,70.93 L1276.10,71.07 L1278.58,71.20 L1281.06,71.33 L1283.54,71.46 L1286.02,71.59 L1288.50,71.72 L1290.98,71.85 L1293.47,71.98 L1295.95,72.11 L1298.43,72.24 L1300.91,72.37 L1303.39,72.50 L1305.87,72.62 L1308.35,72.75 L1310.84,72.87 L1313.32,73.00 L1315.80,73.12 L1318.28,73.24 L1320.76,73.36 L1323.24,73.48 L1325.72,73.60 L1328.21,73.72 L1330.69,73.84 L1333.17,73.95 L1335.65,74.07 L1338.13,74.18 L1340.61,74.30 L1343.09,74.41 L1345.58,74.52 L1348.06,74.63 L1350.54,74.74 L1353.02,74.84 L1355.50,74.95 L1357.98,75.06 L1360.46,75.16 L1362.95,75.26 L1365.43,75.36 L1367.91,75.46 L1370.39,75.56 L1372.87,75.66 L1375.35,75.76 L1377.83,75.85 L1380.32,75.95 L1382.80,76.04 L1385.28,76.13 L1387.76,76.22 L1390.24,76.31 L1392.72,76.40 L1395.20,76.49 L1397.69,76.57 L1400.17,76.66 L1402.65,76.74 L1405.13,76.82 L1407.61,76.90 L1410.09,76.98 L1412.57,77.06 L1415.06,77.14 L1417.54,77.21 L1420.02,77.29 L1422.50,77.36 L1424.98,77.43 L1427.46,77.50 L1429.94,77.57 L1432.43,77.64 L1434.91,77.71 L1437.39,77.77 L1439.87,77.84 L1442.35,77.90 L1444.83,77.97 L1447.31,78.03 L1449.80,78.09 L1452.28,78.15 L1454.76,78.21 L1457.24,78.26 L1459.72,78.32 L1462.20,78.37 L1464.68,78.43 L1467.17,78.48 L1469.65,78.53 L1472.13,78.58 L1474.61,78.63 L1477.09,78.68 L1479.57,78.73 L1482.05,78.78 L1484.54,78.82 L1487.02,78.87 L1489.50,78.91 L1491.98,78.95 L1494.46,79.00 L1496.94,79.04 L1499.42,79.08 L1501.91,79.12 L1504.39,79.16 L1506.87,79.19 L1509.35,79.23 L1511.83,79.27 L1514.31,79.30 L1516.79,79.34 L1519.28,79.37 L1521.76,79.40 L1524.24,79.43 L1526.72,79.47 L1529.20,79.50 L1531.68,79.53 L1534.16,79.56 L1536.65,79.58 L1539.13,79.61 L1541.61,79.64 L1544.09,79.67 L1546.57,79.69 L1549.05,79.72 L1551.53,79.74 L1554.02,79.76 L1556.50,79.79 L1558.98,79.81 L1561.46,79.83 L1563.94,79.85 L1566.42,79.87 L1568.90,79.90 L1571.39,79.92 L1573.87,79.93 L1576.35,79.95 L1578.83,79.97 L1581.31,79.99 L1583.79,80.01 L1586.28,80.02 L1588.76,80.04 L1591.24,80.06 L1593.72,80.07 L1596.20,80.09 L1598.68,80.10 L1601.16,80.12 L1603.65,80.13 L1606.13,80.14 L1608.61,80.16 L1611.09,80.17 L1613.57,80.18 L1616.05,80.19 L1618.53,80.20 L1621.02,80.22 L1623.50,80.23 L1625.98,80.24 L1628.46,80.25 L1630.94,80.26 L1633.42,80.27 L1635.90,80.28 L1638.39,80.28 L1640.87,80.29 L1643.35,80.30 L1645.83,80.31 L1648.31,80.32 L1650.79,80.33 L1653.27,80.33 L1655.76,80.34 L1658.24,80.35 L1660.72,80.35 L1663.20,80.36 L1665.68,80.37 L1668.16,80.37 L1670.64,80.38 L1673.13,80.38 L1675.61,80.39 L1678.09,80.40 L1680.57,80.40 L1683.05,80.41 L1685.53,80.41 L1688.01,80.41 L1690.50,80.42 L1692.98,80.42 L1695.46,80.43 L1697.94,80.43" fill="none" stroke="#ff0000" stroke-width="4.7" stroke-linejoin="round"/>
<path d="M953.51,426.61 L955.99,426.00 L958.47,425.39 L960.95,424.80 L963.43,424.22 L965.91,423.64 L968.40,423.08 L970.88,422.52 L973.36,421.98 L975.84,421.45 L978.32,420.92 L980.80,420.41 L983.29,419.91 L985.77,419.42 L988.25,418.94 L990.73,418.47 L993.21,418.01 L995.69,417.56 L998.17,417.12 L1000.66,416.70 L1003.14,416.28 L1005.62,415.88 L1008.10,415.49 L1010.58,415.11 L1013.06,414.74 L1015.54,414.38 L1018.03,414.04 L1020.51,413.70 L1022.99,413.38 L1025.47,413.07 L1027.95,412.77 L1030.43,412.48 L1032.91,412.20 L1035.40,411.94 L1037.88,411.68 L1040.36,411.44 L1042.84,411.21 L1045.32,410.99 L1047.80,410.79 L1050.28,410.59 L1052.77,410.41 L1055.25,410.24 L1057.73,410.08 L1060.21,409.93 L1062.69,409.79 L1065.17,409.67 L1067.65,409.56 L1070.14,409.46 L1072.62,409.37 L1075.10,409.29 L1077.58,409.22 L1080.06,409.17 L1082.54,409.12 L1085.02,409.09 L1087.51,409.07 L1089.99,409.06 L1092.47,409.06 L1094.95,409.08 L1097.43,409.10 L1099.91,409.14 L1102.39,409.18 L1104.88,409.24 L1107.36,409.31 L1109.84,409.39 L1112.32,409.48 L1114.80,409.58 L1117.28,409.69 L1119.76,409.81 L1122.25,409.94 L1124.73,410.08 L1127.21,410.23 L1129.69,410.40 L1132.17,410.57 L1134.65,410.75 L1137.13,410.94 L1139.62,411.15 L1142.10,411.36 L1144.58,411.58 L1147.06,411.81 L1149.54,412.05 L1152.02,412.30 L1154.50,412.56 L1156.99,412.82 L1159.47,413.10 L1161.95,413.39 L1164.43,413.68 L1166.91,413.98 L1169.39,414.29 L1171.87,414.61 L1174.36,414.94 L1176.84,415.27 L1179.32,415.61 L1181.80,415.97 L1184.28,416.32 L1186.76,416.69 L1189.24,417.06 L1191.73,417.44 L1194.21,417.83 L1196.69,418.22 L1199.17,418.62 L1201.65,419.03 L1204.13,419.45 L1206.61,419.87 L1209.10,420.29 L1211.58,420.73 L1214.06,421.17 L1216.54,421.61 L1219.02,422.06 L1221.50,422.52 L1223.98,422.98 L1226.47,423.44 L1228.95,423.92 L1231.43,424.39 L1233.91,424.87 L1236.39,425.36 L1238.87,425.85 L1241.35,426.35 L1243.84,426.84 L1246.32,427.35 L1248.80,427.86 L1251.28,428.37 L1253.76,428.88 L1256.24,429.40 L1258.72,429.92 L1261.21,430.45 L1263.69,430.97 L1266.17,431.50 L1268.65,432.04 L1271.13,432.57 L1273.61,433.11 L1276.10,433.65 L1278.58,434.20 L1281.06,434.74 L1283.54,435.29 L1286.02,435.84 L1288.50,436.39 L1290.98,436.94 L1293.47,437.49 L1295.95,438.05 L1298.43,438.60 L1300.91,439.16 L1303.39,439.72 L1305.87,440.28 L1308.35,440.84 L1310.84,441.40 L1313.32,441.96 L1315.80,442.52 L1318.28,443.08 L1320.76,443.64 L1323.24,444.20 L1325.72,444.76 L1328.21,445.32 L1330.69,445.87 L1333.17,446.43 L1335.65,446.99 L1338.13,447.55 L1340.61,448.10 L1343.09,448.66 L1345.58,449.21 L1348.06,449.76 L1350.54,450.31 L1353.02,450.86 L1355.50,451.41 L1357.98,451.96 L1360.46,452.50 L1362.95,453.04 L1365.43,453.59 L1367.91,454.12 L1370.39,454.66 L1372.87,455.19 L1375.35,455.73 L1377.83,456.26 L1380.32,456.78 L1382.80,457.31 L1385.28,457.83 L1387.76,458.35 L1390.24,458.86 L1392.72,459.38 L1395.20,459.89 L1397.69,460.39 L1400.17,460.90 L1402.65,461.40 L1405.13,461.90 L1407.61,462.39 L1410.09,462.88 L1412.57,463.37 L1415.06,463.86 L1417.54,464.34 L1420.02,464.81 L1422.50,465.29 L1424.98,465.76 L1427.46,466.22 L1429.94,466.69 L1432.43,467.15 L1434.91,467.60 L1437.39,468.05 L1439.87,468.50 L1442.35,468.94 L1444.83,469.38 L1447.31,469.82 L1449.80,470.25 L1452.28,470.67 L1454.76,471.10 L1457.24,471.52 L1459.72,471.93 L1462.20,472.34 L1464.68,472.75 L1467.17,473.15 L1469.65,473.55 L1472.13,473.94 L1474.61,474.33 L1477.09,474.71 L1479.57,475.09 L1482.05,475.47 L1484.54,475.84 L1487.02,476.21 L1489.50,476.57 L1491.98,476.93 L1494.46,477.29 L1496.94,477.64 L1499.42,477.98 L1501.91,478.32 L1504.39,478.66 L1506.87,478.99 L1509.35,479.32 L1511.83,479.64 L1514.31,479.96 L1516.79,480.28 L1519.28,480.59 L1521.76,480.90 L1524.24,481.20 L1526.72,481.50 L1529.20,481.79 L1531.68,482.08 L1534.16,482.37 L1536.65,482.65 L1539.13,482.93 L1541.61,483.20 L1544.09,483.47 L1546.57,483.73 L1549.05,483.99 L1551.53,484.25 L1554.02,484.50 L1556.50,484.75 L1558.98,485.00 L1561.46,485.24 L1563.94,485.47 L1566.42,485.70 L1568.90,485.93 L1571.39,486.16 L1573.87,486.38 L1576.35,486.60 L1578.83,486.81 L1581.31,487.02 L1583.79,487.23 L1586.28,487.43 L1588.76,487.63 L1591.24,487.82 L1593.72,488.01 L1596.20,488.20 L1598.68,488.39 L1601.16,488.57 L1603.65,488.74 L1606.13,488.92 L1608.61,489.09 L1611.09,489.26 L1613.57,489.42 L1616.05,489.58 L1618.53,489.74 L1621.02,489.89 L1623.50,490.05 L1625.98,490.19 L1628.46,490.34 L1630.94,490.48 L1633.42,490.62 L1635.90,490.76 L1638.39,490.89 L1640.87,491.02 L1643.35,491.15 L1645.83,491.27 L1648.31,491.40 L1650.79,491.52 L1653.27,491.63 L1655.76,491.75 L1658.24,491.86 L1660.72,491.97 L1663.20,492.08 L1665.68,492.18 L1668.16,492.28 L1670.64,492.38 L1673.13,492.48 L1675.61,492.57 L1678.09,492.66 L1680.57,492.75 L1683.05,492.84 L1685.53,492.93 L1688.01,493.01 L1690.50,493.09 L1692.98,493.17 L1695.46,493.25 L1697.94,493.32" fill="none" stroke="#00ff00" stroke-width="4.7" stroke-dasharray="23.65 7.35" stroke-linejoin="round"/>
<path d="M953.51,462.33 L955.99,461.88 L958.47,461.44 L960.95,461.00 L963.43,460.56 L965.91,460.12 L968.40,459.69 L970.88,459.26 L973.36,458.83 L975.84,458.41 L978.32,458.00 L980.80,457.58 L983.29,457.18 L985.77,456.77 L988.25,456.38 L990.73,455.99 L993.21,455.60 L995.69,455.23 L998.17,454.85 L1000.66,454.49 L1003.14,454.13 L1005.62,453.78 L1008.10,453.44 L1010.58,453.10 L1013.06,452.77 L1015.54,452.45 L1018.03,452.14 L1020.51,451.84 L1022.99,451.55 L1025.47,451.26 L1027.95,450.99 L1030.43,450.72 L1032.91,450.46 L1035.40,450.21 L1037.88,449.98 L1040.36,449.75 L1042.84,449.53 L1045.32,449.32 L1047.80,449.12 L1050.28,448.93 L1052.77,448.76 L1055.25,448.59 L1057.73,448.43 L1060.21,448.29 L1062.69,448.15 L1065.17,448.03 L1067.65,447.91 L1070.14,447.81 L1072.62,447.72 L1075.10,447.63 L1077.58,447.56 L1080.06,447.50 L1082.54,447.45 L1085.02,447.42 L1087.51,447.39 L1089.99,447.37 L1092.47,447.36 L1094.95,447.37 L1097.43,447.38 L1099.91,447.41 L1102.39,447.45 L1104.88,447.49 L1107.36,447.55 L1109.84,447.62 L1112.32,447.69 L1114.80,447.78 L1117.28,447.88 L1119.76,447.99 L1122.25,448.10 L1124.73,448.23 L1127.21,448.37 L1129.69,448.51 L1132.17,448.67 L1134.65,448.83 L1137.13,449.01 L1139.62,449.19 L1142.10,449.38 L1144.58,449.58 L1147.06,449.79 L1149.54,450.00 L1152.02,450.23 L1154.50,450.46 L1156.99,450.70 L1159.47,450.95 L1161.95,451.20 L1164.43,451.46 L1166.91,451.73 L1169.39,452.01 L1171.87,452.29 L1174.36,452.58 L1176.84,452.87 L1179.32,453.17 L1181.80,453.48 L1184.28,453.79 L1186.76,454.11 L1189.24,454.43 L1191.73,454.76 L1194.21,455.09 L1196.69,455.43 L1199.17,455.77 L1201.65,456.12 L1204.13,456.47 L1206.61,456.82 L1209.10,457.18 L1211.58,457.54 L1214.06,457.90 L1216.54,458.27 L1219.02,458.64 L1221.50,459.02 L1223.98,459.39 L1226.47,459.77 L1228.95,460.15 L1231.43,460.53 L1233.91,460.92 L1236.39,461.30 L1238.87,461.69 L1241.35,462.08 L1243.84,462.47 L1246.32,462.86 L1248.80,463.25 L1251.28,463.64 L1253.76,464.04 L1256.24,464.43 L1258.72,464.82 L1261.21,465.22 L1263.69,465.61 L1266.17,466.00 L1268.65,466.40 L1271.13,466.79 L1273.61,467.18 L1276.10,467.57 L1278.58,467.96 L1281.06,468.35 L1283.54,468.73 L1286.02,469.12 L1288.50,469.50 L1290.98,469.89 L1293.47,470.27 L1295.95,470.65 L1298.43,471.02 L1300.91,471.40 L1303.39,471.77 L1305.87,472.14 L1308.35,472.51 L1310.84,472.88 L1313.32,473.24 L1315.80,473.61 L1318.28,473.96 L1320.76,474.32 L1323.24,474.67 L1325.72,475.02 L1328.21,475.37 L1330.69,475.72 L1333.17,476.06 L1335.65,476.40 L1338.13,476.73 L1340.61,477.07 L1343.09,477.40 L1345.58,477.72 L1348.06,478.04 L1350.54,478.36 L1353.02,478.68 L1355.50,478.99 L1357.98,479.30 L1360.46,479.61 L1362.95,479.91 L1365.43,480.21 L1367.91,480.50 L1370.39,480.79 L1372.87,481.08 L1375.35,481.37 L1377.83,481.65 L1380.32,481.93 L1382.80,482.20 L1385.28,482.47 L1387.76,482.73 L1390.24,483.00 L1392.72,483.26 L1395.20,483.51 L1397.69,483.76 L1400.17,484.01 L1402.65,484.25 L1405.13,484.49 L1407.61,484.73 L1410.09,484.96 L1412.57,485.19 L1415.06,485.42 L1417.54,485.64 L1420.02,485.86 L1422.50,486.08 L1424.98,486.29 L1427.46,486.50 L1429.94,486.70 L1432.43,486.90 L1434.91,487.10 L1437.39,487.30 L1439.87,487.49 L1442.35,487.67 L1444.83,487.86 L1447.31,488.04 L1449.80,488.22 L1452.28,488.39 L1454.76,488.56 L1457.24,488.73 L1459.72,488.90 L1462.20,489.06 L1464.68,489.22 L1467.17,489.37 L1469.65,489.52 L1472.13,489.67 L1474.61,489.82 L1477.09,489.96 L1479.57,490.10 L1482.05,490.24 L1484.54,490.38 L1487.02,490.51 L1489.50,490.64 L1491.98,490.77 L1494.46,490.89 L1496.94,491.01 L1499.42,491.13 L1501.91,491.24 L1504.39,491.36 L1506.87,491.47 L1509.35,491.58 L1511.83,491.68 L1514.31,491.79 L1516.79,491.89 L1519.28,491.99 L1521.76,492.08 L1524.24,492.18 L1526.72,492.27 L1529.20,492.36 L1531.68,492.45 L1534.16,492.54 L1536.65,492.62 L1539.13,492.70 L1541.61,492.78 L1544.09,492.86 L1546.57,492.93 L1549.05,493.01 L1551.53,493.08 L1554.02,493.15 L1556.50,493.22 L1558.98,493.29 L1561.46,493.35 L1563.94,493.41 L1566.42,493.47 L1568.90,493.53 L1571.39,493.59 L1573.87,493.65 L1576.35,493.71 L1578.83,493.76 L1581.31,493.81 L1583.79,493.86 L1586.28,493.91 L1588.76,493.96 L1591.24,494.01 L1593.72,494.05 L1596.20,494.10 L1598.68,494.14 L1601.16,494.18 L1603.65,494.22 L1606.13,494.26 L1608.61,494.30 L1611.09,494.34 L1613.57,494.37 L1616.05,494.41 L1618.53,494.44 L1621.02,494.48 L1623.50,494.51 L1625.98,494.54 L1628.46,494.57 L1630.94,494.60 L1633.42,494.63 L1635.90,494.65 L1638.39,494.68 L1640.87,494.71 L1643.35,494.73 L1645.83,494.75 L1648.31,494.78 L1650.79,494.80 L1653.27,494.82 L1655.76,494.84 L1658.24,494.86 L1660.72,494.88 L1663.20,494.90 L1665.68,494.92 L1668.16,494.94 L1670.64,494.96 L1673.13,494.97 L1675.61,494.99 L1678.09,495.00 L1680.57,495.02 L1683.05,495.03 L1685.53,495.05 L1688.01,495.06 L1690.50,495.08 L1692.98,495.09 L1695.46,495.10 L1697.94,495.11" fill="none" stroke="#0000ff" stroke-width="4.7" stroke-dasharray="9.33 9.32" stroke-linejoin="round"/>
<line x1="1569.51" y1="234.90" x2="1658.22" y2="234.90" stroke="#ff0000" stroke-width="5.1"/>
<line x1="1569.51" y1="274.00" x2="1658.22" y2="274.00" stroke="#00ff00" stroke-width="5.1" stroke-dasharray="2.5 1.04"/>
<line x1="1569.51" y1="313.30" x2="1658.22" y2="313.30" stroke="#0000ff" stroke-width="5.1" stroke-dasharray="9.9 8.7"/>
</g>
</g>
<g>
<text aria-label="G(γ, t)"><tspan font-size="36.3" x="768.02" y="246.70">G</tspan><tspan font-size="34.6" x="797.60" y="246.00">(</tspan><tspan font-size="33.1" class="it" x="812.66" y="246.70">γ</tspan><tspan font-size="33.6" x="832.13">,</tspan><tspan font-size="34.4" x="843.47" y="246.70"> t</tspan><tspan font-size="34.6" x="865.15" y="246.00">)</tspan></text>
<text aria-label="N(γ, t)"><tspan font-size="34.8" x="767.77" textLength="26.26" lengthAdjust="spacingAndGlyphs" y="285.90">N</tspan><tspan font-size="34.6" x="795.60" y="285.20">(</tspan><tspan font-size="33.1" class="it" x="810.66" y="285.90">γ</tspan><tspan font-size="33.6" x="830.13">,</tspan><tspan font-size="34.4" x="841.47" y="285.90"> t</tspan><tspan font-size="34.6" x="863.15" y="285.20">)</tspan></text>
<text aria-label="E(γ, t)"><tspan font-size="34.8" x="768.27" textLength="24.26" lengthAdjust="spacingAndGlyphs" y="324.90">E</tspan><tspan font-size="34.6" x="793.60" y="324.20">(</tspan><tspan font-size="33.1" class="it" x="808.66" y="324.90">γ</tspan><tspan font-size="33.6" x="828.13">,</tspan><tspan font-size="34.4" x="839.47" y="324.90"> t</tspan><tspan font-size="34.6" x="861.15" y="324.20">)</tspan></text>
<text transform="translate(78.60,555.90) scale(1.0220,1)" font-size="39.1" text-anchor="middle">0</text>
<text transform="translate(212.30,555.90) scale(1.0220,1)" font-size="39.1" text-anchor="middle">5</text>
<text transform="translate(346.00,555.90) scale(1.0220,1)" font-size="39.1" text-anchor="middle">10</text>
<text transform="translate(479.70,555.90) scale(1.0220,1)" font-size="39.1" text-anchor="middle">15</text>
<text transform="translate(613.40,555.90) scale(1.0220,1)" font-size="39.1" text-anchor="middle">20</text>
<text transform="translate(747.10,555.90) scale(1.0220,1)" font-size="39.1" text-anchor="middle">25</text>
<text transform="translate(880.80,555.90) scale(1.0220,1)" font-size="39.1" text-anchor="middle">30</text>
<text transform="translate(54.70,506.30) scale(1.0220,1)" font-size="39.1" text-anchor="end">0.0</text>
<text transform="translate(54.70,403.38) scale(1.0220,1)" font-size="39.1" text-anchor="end">0.2</text>
<text transform="translate(54.70,300.46) scale(1.0220,1)" font-size="39.1" text-anchor="end">0.4</text>
<text transform="translate(54.70,197.54) scale(1.0220,1)" font-size="39.1" text-anchor="end">0.6</text>
<text transform="translate(54.70,94.62) scale(1.0220,1)" font-size="39.1" text-anchor="end">0.8</text>
<text aria-label="Time"><tspan font-size="48.7" x="423.98" textLength="30.37" lengthAdjust="spacingAndGlyphs" y="615.80">T</tspan><tspan font-size="45.0" x="453.69" textLength="80.85" lengthAdjust="spacingAndGlyphs" y="615.80">ime</tspan></text>
<text transform="scale(1.1270,1)"><tspan font-size="38.8" class="serif" x="289.48" y="27.90">(</tspan><tspan font-size="39.5" class="sit" x="301.99" y="28.80">a</tspan><tspan font-size="38.8" class="serif" x="321.08" y="27.90">)</tspan></text>
<text aria-label="γ = 10^−1" transform="scale(1.0300,1)"><tspan font-size="31.5" class="it" x="275.54" y="300.60">γ</tspan><tspan font-size="31.5" x="294.43" y="302.60"> =</tspan><tspan font-size="34.8" x="321.72" y="300.60"> 10</tspan><tspan font-size="22.0" x="370.92" y="287.20">−</tspan><tspan font-size="22.0" x="385.08" y="285.20">1</tspan></text>
<text><tspan font-size="36.3" x="1793.12" y="246.70">G</tspan></text>
<text><tspan font-size="34.8" x="1793.07" textLength="26.26" lengthAdjust="spacingAndGlyphs" y="285.90">N</tspan></text>
<text><tspan font-size="34.8" x="1793.57" textLength="24.26" lengthAdjust="spacingAndGlyphs" y="324.90">E</tspan></text>
<text transform="translate(1027.50,555.90) scale(1.0220,1)" font-size="39.1" text-anchor="middle">0</text>
<text transform="translate(1161.20,555.90) scale(1.0220,1)" font-size="39.1" text-anchor="middle">5</text>
<text transform="translate(1294.90,555.90) scale(1.0220,1)" font-size="39.1" text-anchor="middle">10</text>
<text transform="translate(1428.60,555.90) scale(1.0220,1)" font-size="39.1" text-anchor="middle">15</text>
<text transform="translate(1562.30,555.90) scale(1.0220,1)" font-size="39.1" text-anchor="middle">20</text>
<text transform="translate(1696.00,555.90) scale(1.0220,1)" font-size="39.1" text-anchor="middle">25</text>
<text transform="translate(1829.70,555.90) scale(1.0220,1)" font-size="39.1" text-anchor="middle">30</text>
<text transform="translate(1002.90,506.30) scale(1.0220,1)" font-size="39.1" text-anchor="end">0.0</text>
<text transform="translate(1002.90,403.38) scale(1.0220,1)" font-size="39.1" text-anchor="end">0.2</text>
<text transform="translate(1002.90,300.46) scale(1.0220,1)" font-size="39.1" text-anchor="end">0.4</text>
<text transform="translate(1002.90,197.54) scale(1.0220,1)" font-size="39.1" text-anchor="end">0.6</text>
<text transform="translate(1002.90,94.62) scale(1.0220,1)" font-size="39.1" text-anchor="end">0.8</text>
<text aria-label="Time"><tspan font-size="48.7" x="1372.48" textLength="30.37" lengthAdjust="spacingAndGlyphs" y="615.80">T</tspan><tspan font-size="45.0" x="1402.19" textLength="80.85" lengthAdjust="spacingAndGlyphs" y="615.80">ime</tspan></text>
<text><tspan font-size="38.8" class="serif" x="1274.93" textLength="14.56" lengthAdjust="spacingAndGlyphs" y="27.90">(</tspan><tspan font-size="42.0" class="sit" x="1289.13" textLength="17.85" lengthAdjust="spacingAndGlyphs" y="29.30">b</tspan><tspan font-size="38.8" class="serif" x="1306.04" textLength="14.56" lengthAdjust="spacingAndGlyphs" y="27.90">)</tspan></text>
<text aria-label="γ = 10^−2" transform="scale(1.0300,1)"><tspan font-size="31.5" class="it" x="1196.12" y="300.60">γ</tspan><tspan font-size="31.5" x="1215.01" y="302.60"> =</tspan><tspan font-size="34.8" x="1242.30" y="300.60"> 10</tspan><tspan font-size="22.0" x="1291.50" y="287.20">−</tspan><tspan font-size="22.0" x="1306.23" y="285.20">2</tspan></text>
</g>
</svg>
</body>
</html>
